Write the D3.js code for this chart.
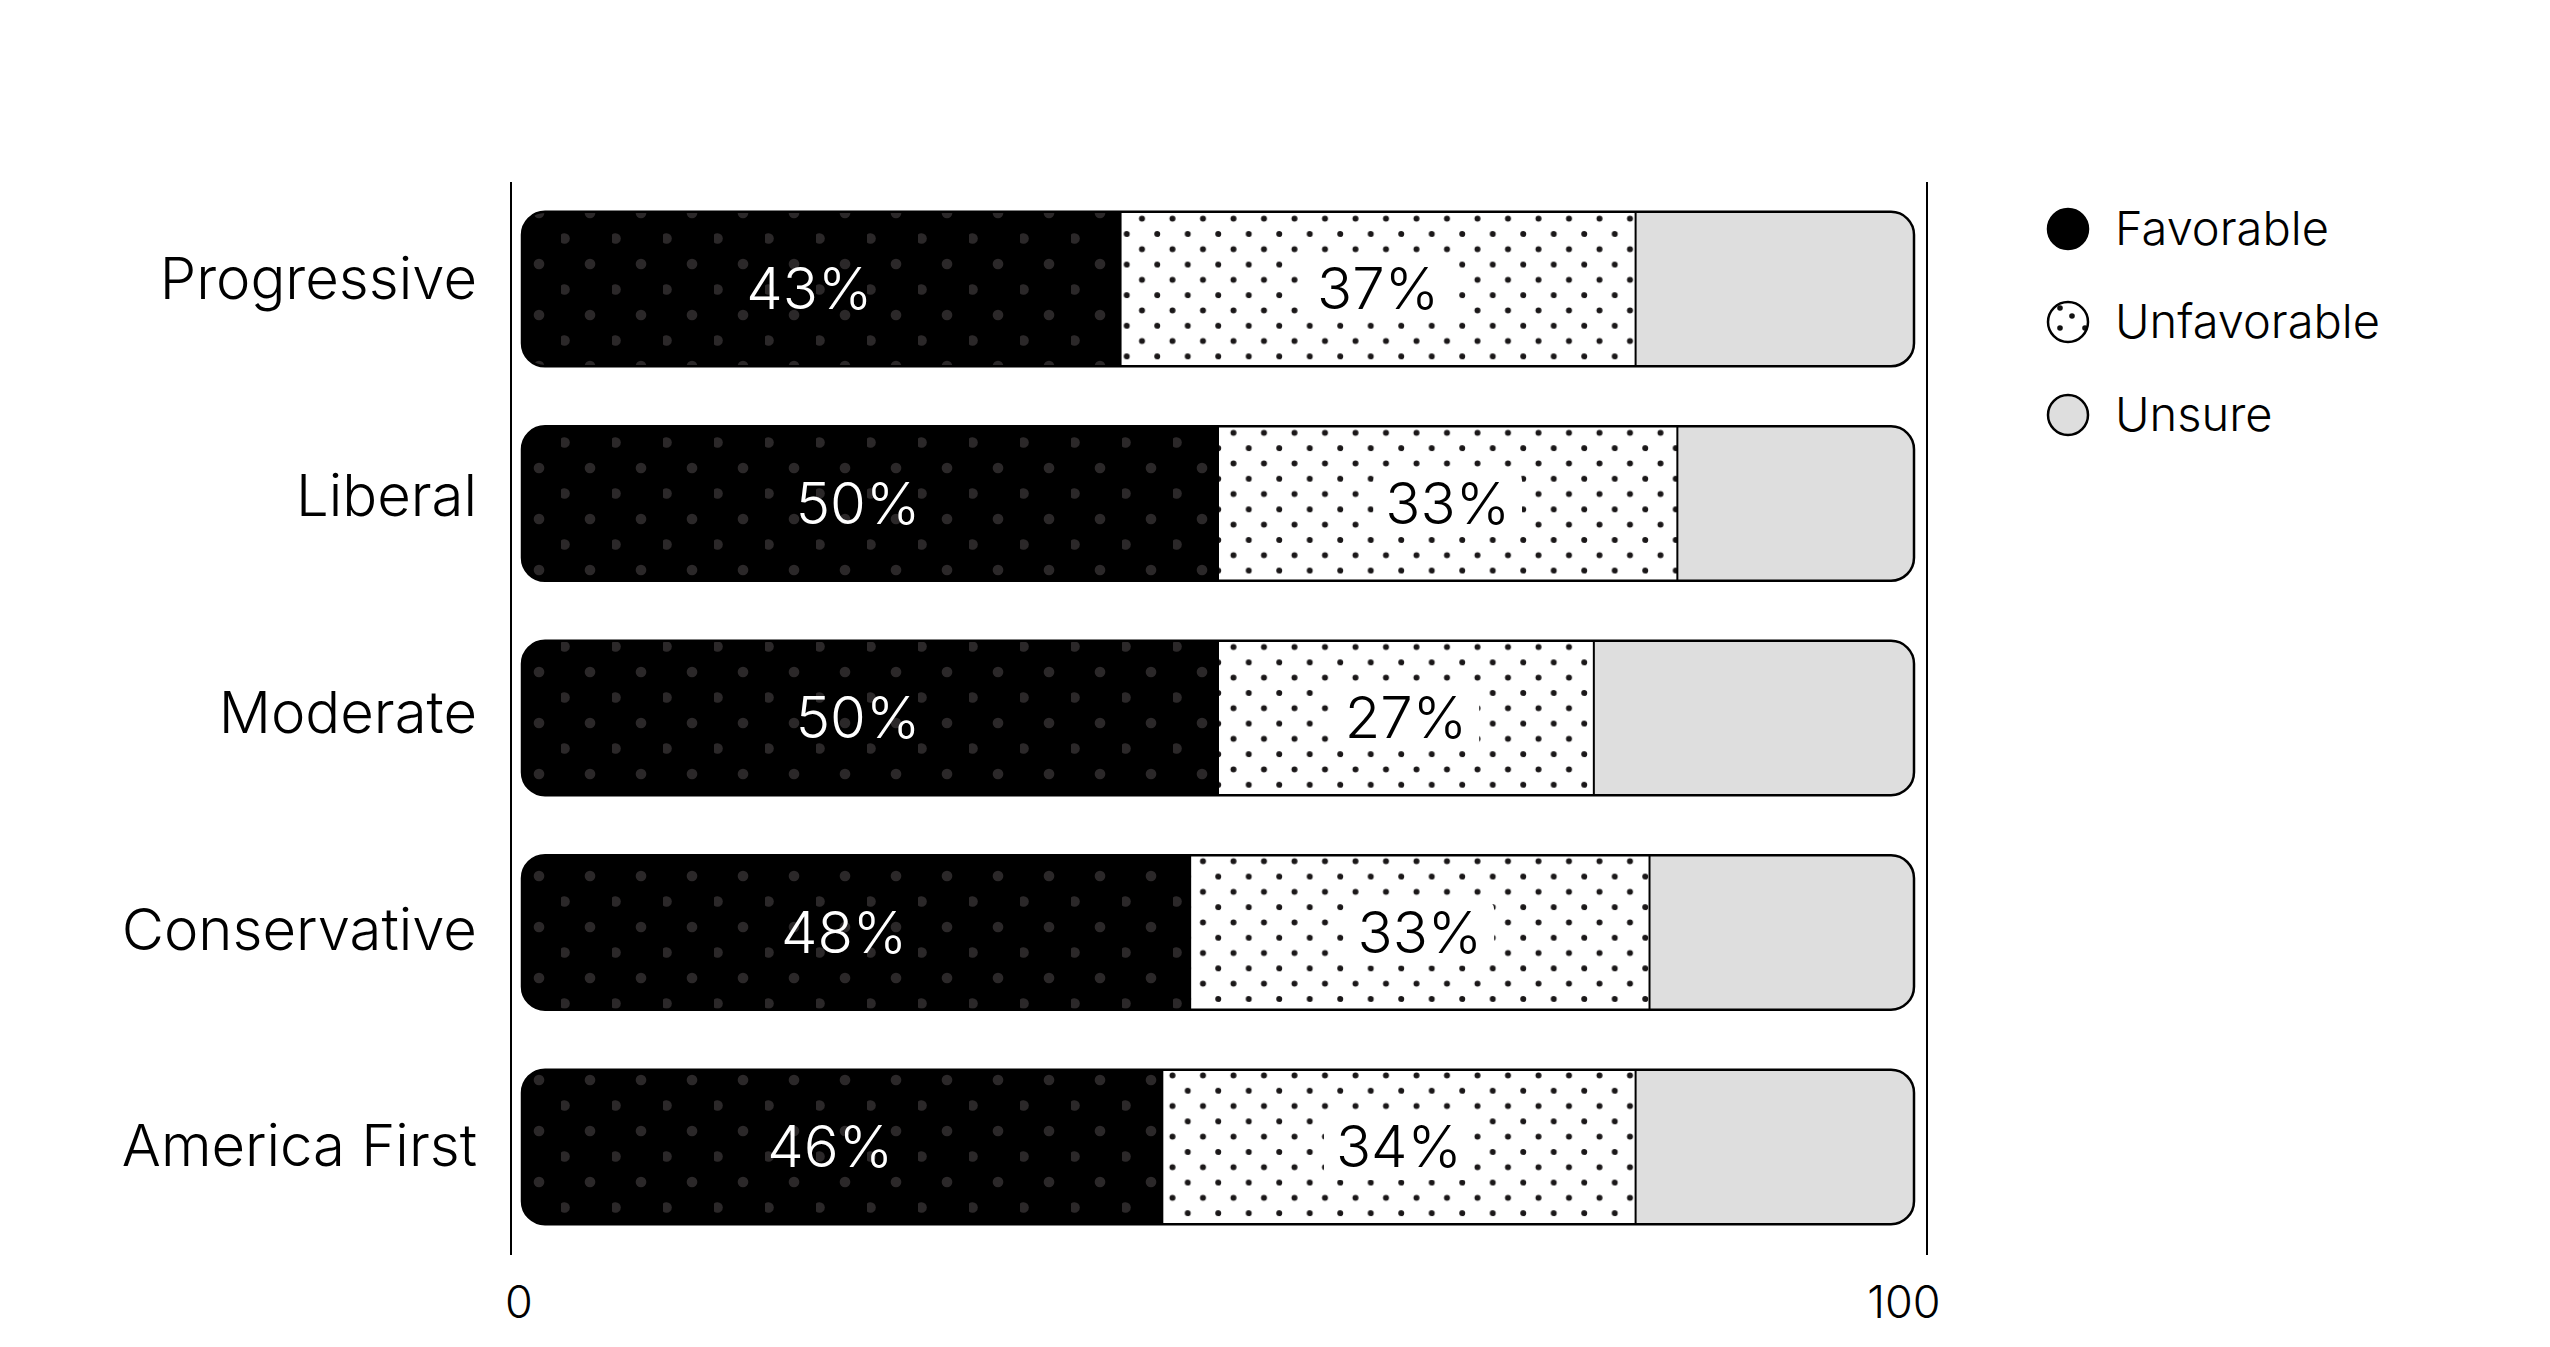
<!DOCTYPE html>
<html>
<head>
<meta charset="utf-8">
<script src="https://cdn.jsdelivr.net/npm/d3@7"></script>
<style>
  html, body { margin: 0; padding: 0; background: #ffffff; }
  svg { display: block; }
  text { font-family: Inter, "Noto Sans", sans-serif; font-weight: 300; }
</style>
</head>
<body>
<svg id="chart" width="2550" height="1347"></svg>
<script>
const categories = ["Progressive", "Liberal", "Moderate", "Conservative", "America First"];
const favorable = [43, 50, 50, 48, 46];
const unfavorable = [37, 33, 27, 33, 34];
const unsure = [20, 17, 23, 19, 20];
const seriesNames = ["Favorable", "Unfavorable", "Unsure"];
const xTicks = [0, 100];

const svg = d3.select("#chart");

const x = d3.scaleLinear().domain([0, 100]).range([522, 1914]);
const y = d3.scaleBand().domain(categories).range([182, 1254]).paddingInner(0.28).paddingOuter(0.139);
const yLabel = d3.scalePoint().domain(categories).range([279, 1146]);
const bw = y.bandwidth();
const R = 23;

const defs = svg.append("defs");
// favorable pattern: dark gray dots on black
const pf = defs.append("pattern").attr("id", "patFav").attr("patternUnits", "userSpaceOnUse")
  .attr("width", 51).attr("height", 51).attr("x", 0).attr("y", 0);
pf.append("rect").attr("width", 51).attr("height", 51).attr("fill", "#000");
[[29, 9], [3.5, 34.5]].forEach(([cx, cy]) =>
  pf.append("circle").attr("cx", cx).attr("cy", cy).attr("r", 5.3).attr("fill", "#2b2829"));
// unfavorable pattern: black dots on white
const pu = defs.append("pattern").attr("id", "patUnf").attr("patternUnits", "userSpaceOnUse")
  .attr("width", 30.5).attr("height", 30.6).attr("x", 0).attr("y", 0);
pu.append("rect").attr("width", 30.5).attr("height", 30.6).attr("fill", "#fff");
[[13.5, 4.5], [28.75, 19.8]].forEach(([cx, cy]) =>
  pu.append("circle").attr("cx", cx).attr("cy", cy).attr("r", 3).attr("fill", "#1a1718"));
pu.append("circle").attr("cx", -1.75).attr("cy", 19.8).attr("r", 3).attr("fill", "#1a1718");

const fills = ["url(#patFav)", "url(#patUnf)", "#dedede"];

// axis lines
svg.append("line").attr("x1", x(0) - 11).attr("x2", x(0) - 11).attr("y1", 182).attr("y2", 1255)
  .attr("stroke", "#000").attr("stroke-width", 2);
svg.append("line").attr("x1", x(100) + 13).attr("x2", x(100) + 13).attr("y1", 182).attr("y2", 1255)
  .attr("stroke", "#000").attr("stroke-width", 2);

// tick labels
svg.selectAll(".tick").data(xTicks).enter().append("text")
  .attr("x", d => x(d) + (d === 0 ? -3 : -10)).attr("y", 1302).attr("dy", "0.35em")
  .attr("text-anchor", "middle").attr("font-size", 45).attr("fill", "#000")
  .text(d => d);

// category labels
svg.selectAll(".cat").data(categories).enter().append("text")
  .attr("x", 477).attr("y", d => yLabel(d)).attr("dy", "0.35em")
  .attr("text-anchor", "end").attr("font-size", 58).attr("fill", "#000")
  .text(d => d);

categories.forEach((cat, i) => {
  const vals = [favorable[i], unfavorable[i], unsure[i]];
  let cum = 0;
  const segs = vals.map((v, k) => { const s = { k, v, x0: cum, x1: cum + v }; cum += v; return s; });
  const y0 = y(cat);
  const clipId = "clip" + i;
  defs.append("clipPath").attr("id", clipId).append("rect")
    .attr("x", x(0)).attr("y", y0).attr("width", x(100) - x(0)).attr("height", bw).attr("rx", R).attr("ry", R);
  const g = svg.append("g");
  const gc = g.append("g").attr("clip-path", `url(#${clipId})`);
  gc.selectAll("rect").data(segs).enter().append("rect")
    .attr("x", d => x(d.x0)).attr("y", y0).attr("width", d => x(d.x1) - x(d.x0)).attr("height", bw)
    .attr("fill", d => fills[d.k]);
  // separators
  gc.selectAll("line").data(segs.slice(1)).enter().append("line")
    .attr("x1", d => x(d.x0)).attr("x2", d => x(d.x0)).attr("y1", y0).attr("y2", y0 + bw)
    .attr("stroke", "#000").attr("stroke-width", 2);
  g.append("rect").attr("x", x(0)).attr("y", y0).attr("width", x(100) - x(0)).attr("height", bw)
    .attr("rx", R).attr("ry", R).attr("fill", "none").attr("stroke", "#000").attr("stroke-width", 2.5);

  // favorable label
  const fs = segs[0];
  g.append("text").attr("x", (x(fs.x0) + x(fs.x1)) / 2 - 12).attr("y", y0 + bw / 2).attr("dy", "0.35em")
    .attr("text-anchor", "middle").attr("font-size", 58).attr("fill", "#fff").text(fs.v + "%");
  // unfavorable label with white backing
  const us = segs[1];
  const cx = (x(us.x0) + x(us.x1)) / 2;
  const t = g.append("text").attr("x", cx).attr("y", y0 + bw / 2).attr("dy", "0.35em")
    .attr("text-anchor", "middle").attr("font-size", 58).attr("fill", "#000").text(us.v + "%");
  const bb = t.node().getBBox();
  g.insert("rect", "text:last-of-type").attr("x", bb.x - 12).attr("y", y0 + bw / 2 - 33)
    .attr("width", bb.width + 24).attr("height", 66).attr("rx", 10).attr("fill", "#fff");
});

// legend unfavorable pattern
const pl = defs.append("pattern").attr("id", "legUnf").attr("patternUnits", "userSpaceOnUse")
  .attr("width", 40).attr("height", 40).attr("x", 2048).attr("y", 302);
pl.append("rect").attr("width", 40).attr("height", 40).attr("fill", "#fff");
[[12, 6], [24, 14], [12, 26], [37, 26]].forEach(([cx, cy]) =>
  pl.append("circle").attr("cx", cx).attr("cy", cy).attr("r", 2.8).attr("fill", "#111"));

// legend
const lg = svg.append("g");
seriesNames.forEach((s, k) => {
  const cy = 229 + k * 93;
  lg.append("circle").attr("cx", 2068).attr("cy", cy).attr("r", 20)
    .attr("fill", k === 0 ? "#000" : (k === 1 ? "url(#legUnf)" : "#dedede"))
    .attr("stroke", "#000").attr("stroke-width", 2.5);
  lg.append("text").attr("x", 2115).attr("y", cy).attr("dy", "0.35em")
    .attr("font-size", 47).attr("fill", "#000").text(s);
});
</script>
</body>
</html>
